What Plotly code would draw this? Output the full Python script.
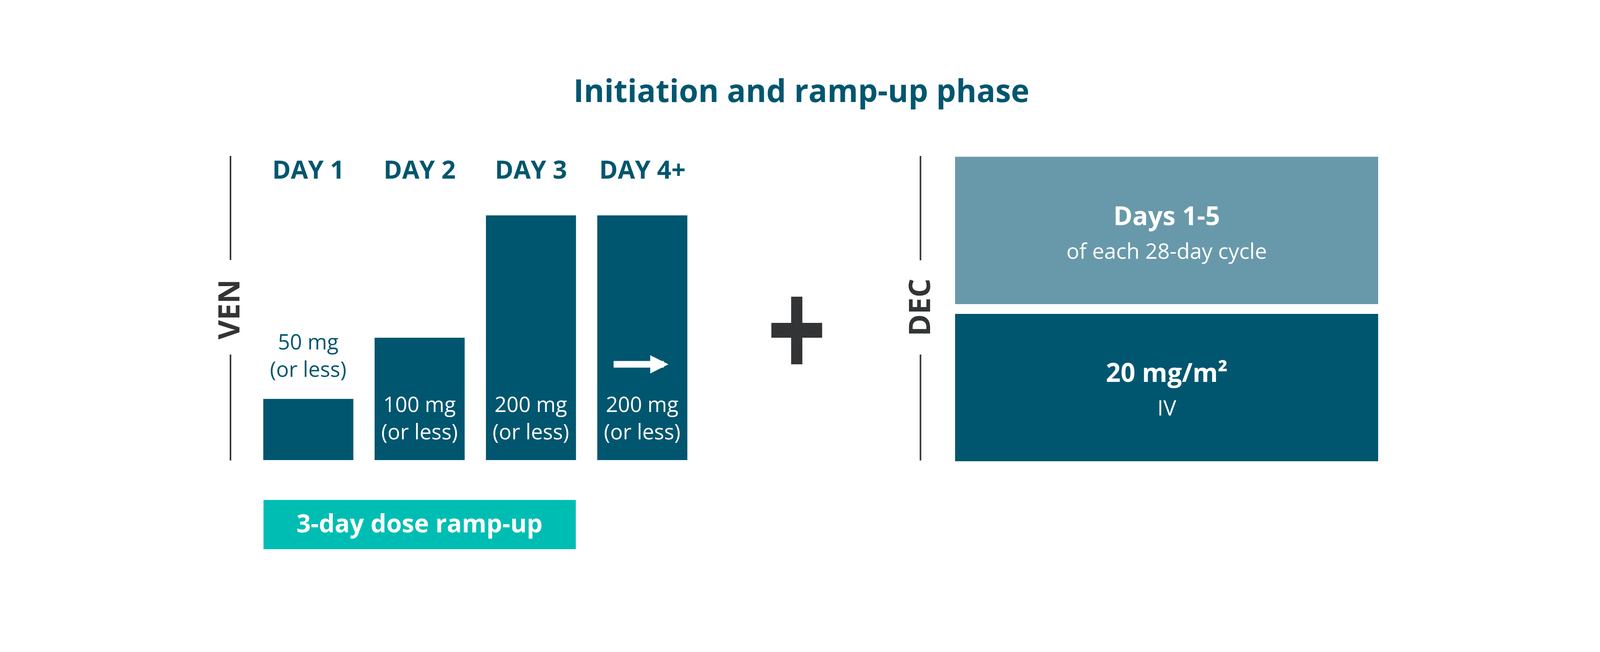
import plotly.graph_objects as go

# reference canvas, used to place everything in paper fractions
REF_W, REF_H = 5418, 1668
# the page is photographed 4096 px wide, so the figure is built at that width
FIG_W, FIG_H = 4096, 1668
SX = FIG_W / REF_W

title = "Initiation and ramp-up phase"
days = ["DAY 1", "DAY 2", "DAY 3", "DAY 4+"]
ven_dose_mg = [50, 100, 200, 200]
dose_labels = ["50 mg", "100 mg", "200 mg", "200 mg"]
dose_notes = ["(or less)", "(or less)", "(or less)", "(or less)"]
ramp_days = 3
ramp_label = "3-day dose ramp-up"
dec_cells = ["schedule", "dose"]
dec_titles = ["Days 1-5", "20 mg/m²"]
dec_notes = ["of each 28-day cycle", "IV"]

DARK = "#01566F"
LIGHT = "#6899AA"
CYAN = "#00BDB4"
GREY = "#333436"
WHITE = "#FFFFFF"
FONT = "Open Sans"


def px_x(x):
    return x / REF_W


def px_y(y):
    return 1 - y / REF_H


fig = go.Figure()

# VEN daily doses
fig.add_trace(go.Bar(x=days, y=ven_dose_mg, marker=dict(color=DARK, line=dict(width=0)),
                     xaxis="x", yaxis="y", hoverinfo="skip"))

# ramp-up span (days 1-3)
fig.add_trace(go.Bar(x=[ramp_days], y=[ramp_label], orientation="h", width=1,
                     marker=dict(color=CYAN, line=dict(width=0)),
                     xaxis="x2", yaxis="y2", hoverinfo="skip"))

# DEC cells: schedule on top, dose below
fig.add_trace(go.Bar(x=["DEC"], y=[1], width=1, marker=dict(color=LIGHT, line=dict(width=0)),
                     xaxis="x3", yaxis="y3", hoverinfo="skip"))
fig.add_trace(go.Bar(x=["DEC"], y=[1], width=1, marker=dict(color=DARK, line=dict(width=0)),
                     xaxis="x3", yaxis="y4", hoverinfo="skip"))

ann = []


def txt(text, x, y, size, color, bold=False, xref="paper", yref="paper", yshift=0, angle=0):
    ann.append(dict(text=text, x=x, y=y, xref=xref, yref=yref, yshift=yshift,
                    showarrow=False, xanchor="center", yanchor="middle", textangle=angle,
                    font=dict(family=FONT, size=size, color=color,
                              weight="bold" if bold else "normal")))


txt(title, px_x(2714), px_y(229), 80, DARK, bold=True)

for d in days:
    txt(d, d, px_y(433), 64, DARK, bold=True, xref="x")

for d, v, lab, note in zip(days, ven_dose_mg, dose_labels, dose_notes):
    label = lab + "<br>" + note
    if v >= 100:
        txt(label, d, 0, 54, WHITE, xref="x", yref="y", yshift=109)
    else:
        txt(label, d, v, 54, DARK, xref="x", yref="y", yshift=112)

# dose continues past day 4
ann.append(dict(text="", x=days[-1], y=0, xref="x", yref="y",
                xshift=round(88 * SX), yshift=245,
                ax=-round(188 * SX), ay=0, showarrow=True, arrowhead=2,
                arrowwidth=17, arrowsize=0.55, arrowcolor=WHITE))

txt(ramp_label, ramp_days / 2, px_y(1337), 64, WHITE, bold=True, xref="x2")

txt("VEN", px_x(773), px_y(791), 76, GREY, bold=True, angle=-90)
txt("DEC", px_x(3111), px_y(786), 76, GREY, bold=True, angle=-90)

cell_mid = [591, 992]
for head, note, ym in zip(dec_titles, dec_notes, cell_mid):
    txt("<b>" + head + "</b><br><span style='font-size:55px'>" + note + "</span>",
        "DEC", px_y(ym), 66, WHITE, xref="x3")

shapes = []


def vline(x, y0, y1):
    shapes.append(dict(type="line", xref="paper", yref="paper",
                       x0=px_x(x), x1=px_x(x), y0=px_y(y0), y1=px_y(y1),
                       line=dict(color=GREY, width=4)))


def rect(x0, y0, x1, y1):
    shapes.append(dict(type="rect", xref="paper", yref="paper",
                       x0=px_x(x0), x1=px_x(x1), y0=px_y(y1), y1=px_y(y0),
                       fillcolor=GREY, line=dict(width=0)))


vline(780.5, 399, 665)
vline(780.5, 907, 1178)
vline(3117, 399, 666)
vline(3117, 907, 1178)

# plus sign between the two drugs
rect(2679, 759, 2717, 932)
rect(2612, 826, 2784, 864)

hidden = dict(visible=False, fixedrange=True)

fig.update_layout(
    width=FIG_W, height=FIG_H,
    margin=dict(l=0, r=0, t=0, b=0),
    paper_bgcolor=WHITE, plot_bgcolor=WHITE,
    showlegend=False,
    bargap=1 - 305 / 377,
    xaxis=dict(domain=[px_x(855.5), px_x(2363.5)], range=[-0.5, 3.5], anchor="y", **hidden),
    yaxis=dict(domain=[px_y(1177), px_y(551)], range=[0, max(ven_dose_mg)], anchor="x", **hidden),
    xaxis2=dict(domain=[px_x(892), px_x(1950)], range=[0, ramp_days], anchor="y2", **hidden),
    yaxis2=dict(domain=[px_y(1405), px_y(1279)], range=[-0.5, 0.5], anchor="x2", **hidden),
    xaxis3=dict(domain=[px_x(3234), px_x(4667)], range=[-0.5, 0.5], anchor="y3", **hidden),
    yaxis3=dict(domain=[px_y(778), px_y(401)], range=[0, 1], anchor="x3", **hidden),
    yaxis4=dict(domain=[px_y(1180), px_y(803)], range=[0, 1], anchor="x3", **hidden),
    annotations=ann,
    shapes=shapes,
)

fig.write_html("out.html", config={"displayModeBar": False},
               post_script="document.body.style.margin = '0';")
